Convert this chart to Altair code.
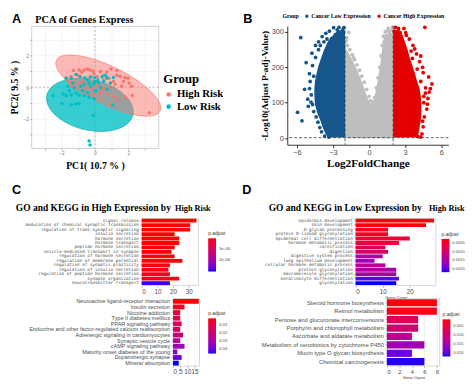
import altair as alt
import pandas as pd
import numpy as np

SERIF = "Liberation Serif"
SANS = "Liberation Sans"
MONO = "DejaVu Sans Mono"

# ---------------- Panel A : PCA ----------------
high_x = [-1.29, -0.94, -0.64, -0.45, -0.29, -0.12, -0.80, -0.06, 0.33, 0.72, 0.97, 1.31, 1.50, 1.79, 1.99, 1.70, 2.05, 2.18, 2.24, 3.26,
          -1.03, -1.42, -1.72, -1.52, -1.23, -0.94, -0.74, -0.35, 0.14, 0.53, 0.82, 1.11, 1.21, 1.60, 0.92, 0.53, 0.33, 0.72, 1.11, 1.31,
          1.79, 0.14, -0.16, -0.55, -1.23, -1.42, -0.74, -0.35, -0.06, 0.33, 1.01, 0.72, 1.31, 0.53]
high_y = [1.06, 1.10, 1.10, 1.14, 1.10, 1.02, 0.96, 0.86, 1.00, 0.96, 1.16, 1.06, 0.70, 0.62, 0.56, 0.36, 0.26, 0.06, -0.54, -1.64,
          0.76, 0.66, 0.60, 0.36, 0.26, 0.22, 0.36, 0.56, 0.66, 0.76, 0.56, 0.36, 0.16, 0.06, -0.04, -0.14, -0.34, -0.44, -0.58, -0.84,
          -0.64, 0.16, -0.04, -0.04, -0.10, 0.06, -0.34, -0.38, -0.54, -0.74, -1.14, 0.56, 0.76, 0.46]
low_x = [-1.72, -1.42, -1.13, -0.88, -0.60, -0.45, -0.25, -0.02, 0.18, 0.43, 0.62, 0.72, 0.53, 0.23, -0.06, -0.25, -0.64, -0.84,
         -1.23, -1.52, -1.91, -1.72, -1.42, -1.13, -0.94, -0.64, -0.45, -0.35, -2.50, -1.97, -1.42, -1.13, -0.97, -0.06, -0.10,
         -0.35, -0.29, 0.92, 1.11, 0.33, 0.04, 0.72, 0.04, -0.35, 1.07, -1.62, -1.33, -0.74]
low_y = [0.56, 0.56, 0.80, 0.66, 0.60, 0.46, 0.66, 0.60, 0.46, 0.66, 0.76, 0.60, 0.36, 0.26, 0.22, 0.06, 0.16, 0.06, -0.04, -0.24,
         -0.44, -0.54, -0.50, -0.38, -0.50, -0.54, -0.34, -0.64, -0.54, -1.04, -1.14, -1.08, -1.04, -0.74, -1.80, -3.44, -3.70,
         0.26, 0.62, -0.04, -0.24, -0.14, 0.36, 0.26, -1.14, 0.06, 0.26, -0.24]
# confidence ellipses: centre x, centre y, semi-major, semi-minor, angle (deg)
ellipse_high = [0.8, 0.1, 3.5, 1.2, -28]
ellipse_low = [-0.3, -1.14, 2.65, 1.6, -15]

# ---------------- Panel B : volcano ----------------
gray_env_x = [-2.0, -1.85, -1.7, -1.5, -1.3, -1.1, -0.9, -0.7, -0.5, -0.3, -0.1, 0.1, 0.2, 0.35, 0.5, 0.7, 0.85, 1.0, 1.1, 1.2, 1.3, 1.5, 1.7, 2.0]
gray_env_top = [255, 250, 240, 228, 215, 200, 185, 168, 150, 130, 112, 100, 97, 105, 125, 160, 190, 225, 255, 280, 292, 295, 296, 298]
blue_env_y = [2, 10, 30, 50, 70, 95, 120, 140, 160, 185, 205, 225, 245, 260, 275, 290, 305]
blue_env_left = [-3.4, -3.6, -3.85, -4.05, -4.3, -4.5, -4.55, -4.55, -4.5, -4.35, -4.2, -4.0, -3.8, -3.6, -3.4, -3.0, -2.6]
red_env_y = [2, 10, 30, 50, 70, 95, 120, 140, 160, 185, 205, 225, 245, 260, 275, 290, 305]
red_env_right = [3.9, 4.1, 4.2, 4.3, 4.35, 4.35, 4.3, 4.2, 4.0, 3.8, 3.6, 3.4, 3.25, 3.1, 2.95, 2.8, 2.6]
gray_points = [(-1.69, 299), (-1.9, 275), (-1.8, 262), (-1.6, 250), (-1.4, 236), (-1.2, 222), (-1.0, 207), (-0.8, 192),
               (-0.6, 175), (-0.4, 158), (-0.2, 138), (0.0, 118), (0.15, 106), (0.3, 100), (0.45, 115), (0.6, 142),
               (0.75, 170), (0.9, 200), (1.0, 232), (1.1, 262), (1.2, 288), (1.35, 300), (1.5, 303), (1.7, 300),
               (1.9, 306), (1.95, 314), (-1.95, 262), (1.25, 272), (-1.3, 228), (-1.85, 283), (1.6, 310)]
blue_points = [(-5.68, 284), (-5.95, 73), (-5.58, 49), (-5.23, 213), (-5.36, 138), (-4.96, 182), (-4.83, 102), (-4.9, 160),
               (-4.75, 240), (-4.45, 262), (-4.2, 272), (-3.9, 287), (-3.6, 296), (-3.3, 302), (-2.95, 312), (-2.5, 313),
               (-2.2, 306), (-3.95, 18), (-4.25, 45), (-4.6, 75), (-4.8, 122), (-4.2, 250), (-3.75, 272), (-2.8, 292),
               (-3.7, 6), (-3.35, 3), (-5.05, 90), (-4.95, 140), (-4.7, 205), (-4.45, 228), (-5.1, 110), (-3.1, 282),
               (-2.4, 298), (-2.65, 306), (-2.1, 312), (-3.5, 280), (-4.05, 262), (-4.6, 175), (-4.7, 95), (-4.4, 60),
               (-4.1, 30), (-2.3, 285), (-2.15, 295)]
red_points = [(4.64, 313), (5.23, 153), (4.96, 173), (4.5, 185), (4.69, 127), (4.9, 112), (4.8, 82), (4.6, 60), (4.5, 32),
              (4.4, 12), (4.7, 142), (4.45, 200), (4.2, 216), (3.95, 238), (3.65, 262), (3.35, 280), (3.05, 298), (2.76, 275),
              (2.45, 310), (2.2, 313), (3.8, 252), (4.3, 232), (5.0, 130), (4.85, 96), (4.55, 100), (2.1, 302), (3.1, 290),
              (2.6, 297), (4.3, 3), (4.05, 5), (4.45, 48), (4.55, 118), (4.3, 160), (4.0, 195), (3.6, 225), (2.9, 310),
              (2.35, 300), (3.5, 246), (5.1, 140)]

# ---------------- Panels C / D : enrichment bars ----------------
c_go_terms = ["signal release", "modulation of chemical synaptic transmission", "regulation of trans-synaptic signaling",
              "insulin secretion", "hormone secretion", "hormone transport", "peptide hormone secretion",
              "vesicle-mediated transport in synapse", "regulation of hormone secretion", "regulation of membrane potential",
              "regulation of synaptic plasticity", "regulation of insulin secretion", "regulation of peptide hormone secretion",
              "synapse organization", "neurotransmitter transport"]
c_go_count = [35, 31, 31, 21, 24, 24, 21, 19, 21, 26, 18, 17, 18, 24, 18]
c_go_padj = [1e-12, 5e-11, 8e-11, 2e-9, 3e-9, 4e-9, 1e-8, 2e-8, 3e-8, 5e-8, 8e-8, 1e-7, 1.5e-7, 2e-7, 2.9e-6]

c_kegg_terms = ["Neuroactive ligand-receptor interaction", "Insulin secretion", "Nicotine addiction", "Type II diabetes mellitus",
                "PPAR signaling pathway", "Endocrine and other factor-regulated calcium reabsorption",
                "Adrenergic signaling in cardiomyocytes", "Synaptic vesicle cycle", "cAMP signaling pathway",
                "Maturity onset diabetes of the young", "Dopaminergic synapse", "Mineral absorption"]
c_kegg_count = [18, 8, 5, 5, 6, 5, 7, 5, 8, 3, 6, 4]
c_kegg_padj = [0.0015, 0.004, 0.009, 0.010, 0.013, 0.015, 0.021, 0.025, 0.031, 0.035, 0.039, 0.045]

d_go_terms = ["epidermis development", "skin development", "O-glycan processing", "protein O-linked glycosylation",
              "epidermal cell differentiation", "hormone metabolic process", "cornification", "digestion",
              "digestive system process", "lung epithelium development", "cellular hormone metabolic process",
              "protein glycosylation", "macromolecule glycosylation", "keratinocyte differentiation", "glycosylation"]
d_go_count = [29, 26, 12, 12, 20, 16, 11, 12, 10, 7, 11, 15, 15, 16, 15]
d_go_padj = [0.0003, 0.0003, 0.00035, 0.0004, 0.0005, 0.0006, 0.0008, 0.0009, 0.0014, 0.0016, 0.0013, 0.0015, 0.0015, 0.0020, 0.0022]

d_kegg_terms = ["Steroid hormone biosynthesis", "Retinol metabolism", "Pentose and glucuronate interconversions",
                "Porphyrin and chlorophyll metabolism", "Ascorbate and aldarate metabolism",
                "Metabolism of xenobiotics by cytochrome P450", "Mucin type O glycan biosynthesis", "Chemical carcinogenesis"]
d_kegg_count = [8, 8, 5, 5, 4, 6, 4, 6]
d_kegg_padj = [0.0015, 0.0020, 0.007, 0.009, 0.012, 0.015, 0.019, 0.0215]


def ellipse_band(p, n=90):
    cx, cy, a, b, ang = p
    t = np.radians(ang)
    s, c = np.sin(t), np.cos(t)
    ex = np.sqrt(a * a * c * c + b * b * s * s)
    X = ex * np.cos(np.linspace(np.pi, 0, n))
    A = s * s / (a * a) + c * c / (b * b)
    B = 2 * X * s * c * (1 / (a * a) - 1 / (b * b))
    C = X * X * (c * c / (a * a) + s * s / (b * b)) - 1
    d = np.sqrt(np.clip(B * B - 4 * A * C, 0, None))
    return pd.DataFrame({"x": cx + X, "lo": cy + (-B - d) / (2 * A), "hi": cy + (-B + d) / (2 * A)})


def text_marks(items):
    out = []
    for t, x, y, font, size, base in items:
        out.append(alt.Chart(pd.DataFrame({"t": [t]})).mark_text(
            font=font, fontSize=size, fontWeight="bold", align="left", baseline=base, color="black"
        ).encode(x=alt.value(x), y=alt.value(y), text="t:N"))
    return out


def spacer(w, h):
    return alt.Chart(pd.DataFrame({"s": [0]})).mark_point(opacity=0).encode(
        x=alt.value(0), y=alt.value(0)).properties(width=w, height=h)


# ---------- build A ----------
xA = alt.Scale(domain=[-3.8, 3.8], nice=False, zero=False)
yA = alt.Scale(domain=[-3.9, 3.9], nice=False, zero=False)
axA = dict(values=[-3, -2, -1, 0, 1, 2, 3], labelExpr="datum.value % 2 == 0 ? datum.label : ''", grid=True,
           gridColor="#ebebeb", gridWidth=0.6, domain=False, tickColor="#777", tickSize=2, tickWidth=0.5,
           labelFontSize=5, labelColor="#777", labelFont=SANS, titleFont=SERIF, titleFontWeight="bold",
           titleFontSize=10, titleColor="black", labelPadding=1)
XA = lambda f: alt.X(f, scale=xA, axis=alt.Axis(title="PC1( 10.7 % )", titlePadding=4.5, **axA))
YA = lambda f: alt.Y(f, scale=yA, axis=alt.Axis(title="PC2( 9.5 % )", titlePadding=4, **axA))

ell_low = alt.Chart(ellipse_band(ellipse_low)).mark_area(
    fill="#00BFC4", fillOpacity=0.78, stroke="#00A9AD", strokeWidth=0.7).encode(x=XA("x:Q"), y=YA("lo:Q"), y2="hi:Q")
ell_high = alt.Chart(ellipse_band(ellipse_high)).mark_area(
    fill="#F8766D", fillOpacity=0.5, stroke="#F8766D", strokeWidth=0.7).encode(x=XA("x:Q"), y=YA("lo:Q"), y2="hi:Q")
zero = pd.DataFrame({"v": [0]})
rA1 = alt.Chart(zero).mark_rule(color="#999", strokeDash=[2, 2], strokeWidth=0.7).encode(x=XA("v:Q"))
rA2 = alt.Chart(zero).mark_rule(color="#999", strokeDash=[2, 2], strokeWidth=0.7).encode(y=YA("v:Q"))
pca_df = pd.DataFrame({"x": high_x + low_x, "y": high_y + low_y,
                       "Group": ["High Risk"] * len(high_x) + ["Low Risk"] * len(low_x)})
ptsA = alt.Chart(pca_df).mark_circle(size=13, opacity=1).encode(
    x=XA("x:Q"), y=YA("y:Q"),
    color=alt.Color("Group:N", scale=alt.Scale(domain=["High Risk", "Low Risk"], range=["#F8766D", "#00BFC4"]),
                    legend=alt.Legend(title="Group", orient="none", legendX=135, legendY=48.5, direction="vertical",
                                      padding=0, titleFont=SERIF, titleFontSize=13, titleFontWeight="bold",
                                      titleColor="black", labelFont=SERIF, labelFontSize=11, labelFontWeight="bold",
                                      labelColor="black", symbolType="circle", symbolSize=22, symbolStrokeWidth=0,
                                      labelOffset=3, rowPadding=0.5, titlePadding=3)))
panelA = alt.layer(rA1, rA2, ell_low, ell_high, ptsA,
                   *text_marks([("A", -20, -13, SANS, 13, "top"),
                                ("PCA of Genes Express", 4, -3, SERIF, 10.5, "alphabetic")])
                   ).properties(width=130, height=125, view=alt.ViewBackground(stroke="#c4c4c4", strokeWidth=0.8))

# ---------- build B ----------
xB = alt.Scale(domain=[-6.8, 6.6], nice=False, zero=False)
yB = alt.Scale(domain=[-18.6, 316.5], nice=False, zero=False)
axB = dict(grid=False, domainColor="black", domainWidth=0.8, tickColor="black", tickSize=3, tickWidth=0.8,
           labelFontSize=7.5, labelColor="#4d4d4d", labelFont=SANS, titleFont=SERIF, titleFontWeight="bold",
           titleColor="black", labelPadding=1)
XB = lambda f: alt.X(f, scale=xB, axis=alt.Axis(values=[-6, -3, 0, 3, 6], title="Log2FoldChange", titleFontSize=11.5,
                                                titlePadding=1.5, **axB))
YB = lambda f: alt.Y(f, scale=yB, axis=alt.Axis(values=[0, 100, 200, 300], title="-Log10(Adjust P-adj-Value)",
                                                titleFontSize=9.5, titlePadding=2, **axB))
gray_env = pd.DataFrame({"x": gray_env_x, "top": gray_env_top, "base": [0] * len(gray_env_x)})
blue_env = pd.DataFrame({"y": blue_env_y, "left": blue_env_left, "base": [-2] * len(blue_env_y)})
red_env = pd.DataFrame({"y": red_env_y, "right": red_env_right, "base": [2] * len(red_env_y)})
GRAY, BLUE, RED = "#BEBEBE", "#15568C", "#E50000"
g_area = alt.Chart(gray_env).mark_area(color=GRAY).encode(x=XB("x:Q"), y=YB("top:Q"), y2="base:Q")
b_area = alt.Chart(blue_env).mark_area(color=BLUE, orient="horizontal").encode(y=YB("y:Q"), x=XB("left:Q"), x2="base:Q")
r_area = alt.Chart(red_env).mark_area(color=RED, orient="horizontal").encode(y=YB("y:Q"), x=XB("right:Q"), x2="base:Q")
g_pts = alt.Chart(pd.DataFrame(gray_points, columns=["x", "y"])).mark_circle(size=15, opacity=1, color=GRAY).encode(
    x=XB("x:Q"), y=YB("y:Q"))
col_df = pd.concat([pd.DataFrame(blue_points, columns=["x", "y"]).assign(g="Cancer Low Expression"),
                    pd.DataFrame(red_points, columns=["x", "y"]).assign(g="Cancer High Expression")])
c_pts = alt.Chart(col_df).mark_circle(size=15, opacity=1).encode(
    x=XB("x:Q"), y=YB("y:Q"),
    color=alt.Color("g:N", scale=alt.Scale(domain=["Cancer Low Expression", "Cancer High Expression"], range=[BLUE, RED]),
                    legend=alt.Legend(title="Group", orient="none", legendX=-5, legendY=-13, direction="horizontal",
                                      padding=0, titleOrient="left", titleFont=SERIF, titleFontSize=6,
                                      titleFontWeight="bold", titleColor="black", labelFont=SERIF, labelFontSize=6,
                                      labelFontWeight="bold", labelColor="black", symbolType="circle", symbolSize=12,
                                      symbolStrokeWidth=0, labelOffset=1.5, columnPadding=5, titlePadding=5)))
vr = alt.Chart(pd.DataFrame({"v": [-2, 2]})).mark_rule(color="#333", strokeDash=[3, 2], strokeWidth=0.8).encode(x=XB("v:Q"))
hr = alt.Chart(pd.DataFrame({"v": [1.3]})).mark_rule(color="#333", strokeDash=[3, 2], strokeWidth=0.8).encode(y=YB("v:Q"))
panelB = alt.layer(g_area, g_pts, b_area, r_area, c_pts, vr, hr,
                   *text_marks([("B", -45, -13, SANS, 13, "top")])).properties(width=165, height=121.5)


# ---------- bar panels ----------
def bar_panel(terms, counts, padj, xmax, xticks, w, h, pdom, lvals, lexpr, lx, ly, glen, lab_font, lab_size,
              xlab_size, leg_lab, xtitle, texts):
    df = pd.DataFrame({"term": terms, "count": counts, "padj": padj})
    bars = alt.Chart(df).transform_calculate(neg="-datum.padj").mark_bar().encode(
        y=alt.Y("term:N", sort=terms, scale=alt.Scale(paddingInner=0.14, paddingOuter=0.07),
                axis=alt.Axis(title="", labelFont=lab_font, labelFontSize=lab_size, labelColor="#4d4d4d",
                              labelLimit=400, labelPadding=1.5, tickSize=2, tickColor="#777", tickWidth=0.5,
                              domain=False, grid=False)),
        x=alt.X("count:Q", scale=alt.Scale(domain=[0, xmax], nice=False, zero=True),
                axis=alt.Axis(values=xticks, title=xtitle, titleFont=SANS, titleFontSize=4.2, titleFontWeight="normal",
                              titlePadding=0.5, titleColor="#333", labelFont=SANS, labelFontSize=xlab_size,
                              labelColor="#4d4d4d", labelPadding=1, tickSize=2, tickColor="#777", tickWidth=0.5,
                              domain=False, grid=True, gridColor="#e8e8e8", gridWidth=0.6)),
        color=alt.Color("neg:Q", scale=alt.Scale(domain=[-pdom[1], -pdom[0]], range=["#0000FF", "#FF0000"], interpolate="lab"),
                        legend=alt.Legend(title="p.adjust", orient="none", legendX=lx, legendY=ly, direction="vertical",
                                          padding=0, values=[-v for v in lvals], labelExpr=lexpr, gradientLength=glen,
                                          gradientThickness=8, gradientStrokeWidth=0, titleFont=SANS, titleFontSize=5,
                                          titleFontWeight="normal", titleColor="#333", titlePadding=2, labelFont=SANS,
                                          labelFontSize=leg_lab, labelColor="#4d4d4d", labelOffset=3)))
    return alt.layer(bars, *text_marks(texts)).properties(
        width=w, height=h, view=alt.ViewBackground(stroke="#bdbdbd", strokeWidth=0.6))


panelCgo = bar_panel(c_go_terms, c_go_count, c_go_padj, 36.25, [0, 10, 20, 30], 58, 68.5, [0.0, 3.0e-6], [1e-6, 2e-6],
                     "replace(format(-datum.value, '.0e'), 'e-', 'e-0')", 68, 13.3, 34, MONO, 4.4, 6.5, 4.5, "",
                     [("C", -133, -35, SANS, 13, "top"),
                      ("GO and KEGG in High Expression by", -129, -8, SERIF, 9.7, "alphabetic"),
                      ("High Risk", 34, -8, SERIF, 8.5, "alphabetic")])
panelCkegg = bar_panel(c_kegg_terms, c_kegg_count, c_kegg_padj, 18.4, [0, 5, 10, 15], 27, 69, [0.0012, 0.045],
                       [0.01, 0.02, 0.03, 0.04], "format(-datum.value, '.2f')", 36, 13.3, 36, SANS, 5.6, 6.5, 4.5, "", [])
panelDgo = bar_panel(d_go_terms, d_go_count, d_go_padj, 29.6, [0, 10, 20], 82, 68.5, [0.00026, 0.0022],
                     [0.0005, 0.0010, 0.0015, 0.0020], "format(-datum.value, '.4f')", 88, 14, 34, MONO, 4.4, 6.5, 4.2,
                     "Gene Count",
                     [("D", -116, -35, SANS, 13, "top"),
                      ("GO and KEGG in Low Expression by", -89, -8, SERIF, 9.7, "alphabetic"),
                      ("High Risk", 75, -8, SERIF, 8.5, "alphabetic")])
panelDkegg = bar_panel(d_kegg_terms, d_kegg_count, d_kegg_padj, 8.44, [0, 2, 4, 6, 8], 54, 69, [0.001, 0.0218],
                       [0.005, 0.010, 0.015, 0.020], "format(-datum.value, '.3f')", 57, 14.3, 38, SANS, 6.0, 6.0, 4.2,
                       "Gene Count", [])

row1 = alt.hconcat(panelA, spacer(132, 1), panelB, spacing=0, bounds="flush").resolve_scale(color="independent")
row2 = alt.hconcat(spacer(113, 1), panelCgo, spacer(161, 1), panelDgo, spacing=0, bounds="flush"
                   ).resolve_scale(color="independent")
row3 = alt.hconcat(spacer(145, 1), panelCkegg, spacer(192, 1), panelDkegg, spacing=0, bounds="flush"
                   ).resolve_scale(color="independent")

chart = alt.vconcat(row1, spacer(1, 196.5), row2, spacer(1, 81.5), row3, spacing=0, bounds="flush"
                    ).resolve_scale(color="independent").properties(padding=0).configure_view(strokeWidth=0)

chart.save("out.html", embed_options={"renderer": "svg", "actions": False})
